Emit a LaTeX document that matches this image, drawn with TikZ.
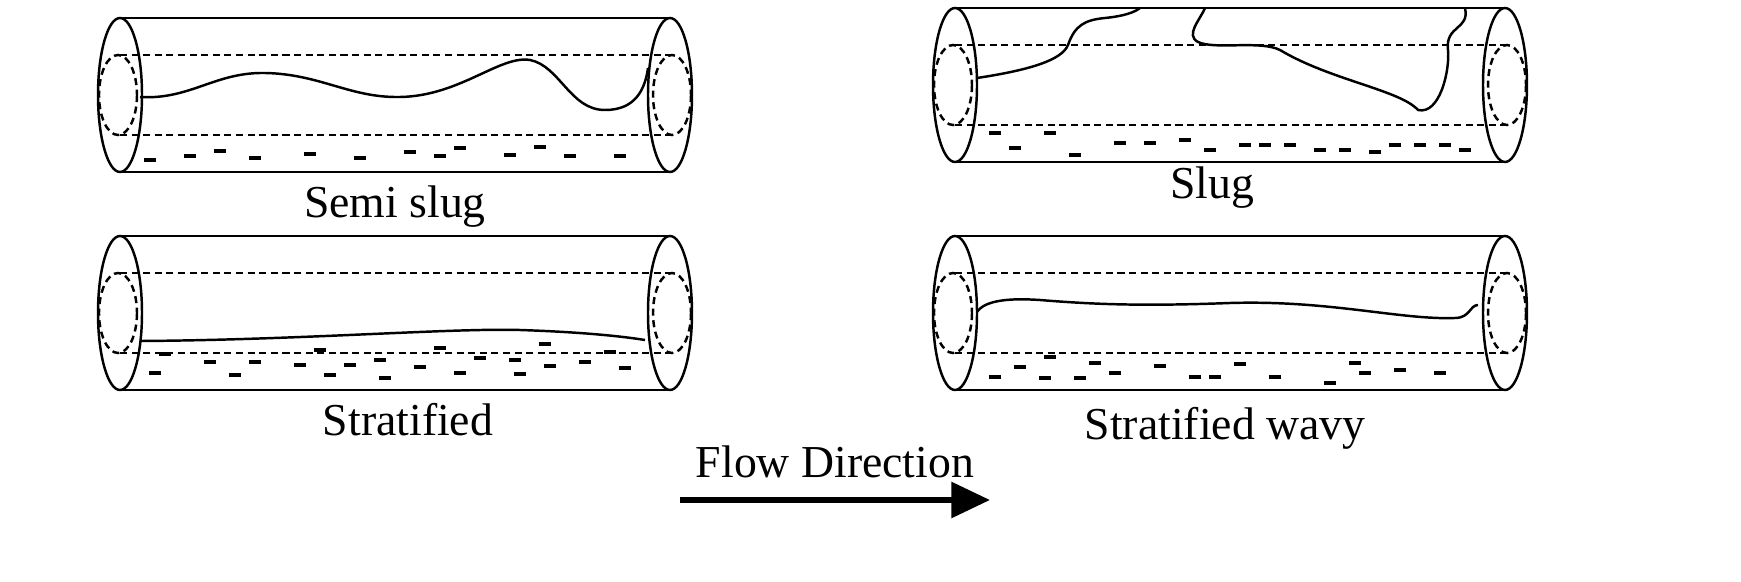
\documentclass[tikz,border=0pt]{standalone}
\usepackage{fontspec}
\setmainfont{Liberation Serif}
\usetikzlibrary{arrows.meta}

% one pipe, drawn from its top left corner
\newcommand\pipe[1]{%
  \begin{scope}[shift={#1}]
    \draw (0,0) -- (550,0) (0,154) -- (550,154);
    \draw (0,77) ellipse [x radius=22, y radius=77];
    \draw (550,77) ellipse [x radius=22, y radius=77];
    \draw[dashed] (-2,77) ellipse [x radius=19, y radius=40];
    \draw[dashed] (552,77) ellipse [x radius=19, y radius=40];
    \draw[dashed] (0,37) -- (550,37) (0,117) -- (550,117);
  \end{scope}}

\begin{document}
\begin{tikzpicture}[x=0.01cm,y=-0.01cm,line width=0.7pt,
    dashed/.style={dash pattern=on 2pt off 1.3pt},
    drop/.style={line width=1.2pt},
    label/.style={font=\fontsize{13}{15}\selectfont}]
  \useasboundingbox (0,0) rectangle (1741,582);

  % the four pipes
  \pipe{(120,18)}
  \pipe{(955,8)}
  \pipe{(120,236)}
  \pipe{(955,236)}

  % semi slug
  \draw (140,97) .. controls (190,100) and (215,72) .. (265,73)
    .. controls (320,74) and (350,98) .. (400,97)
    .. controls (460,96) and (500,55) .. (530,60)
    .. controls (560,66) and (570,110) .. (605,110)
    .. controls (635,110) and (645,90) .. (648,68);
  \foreach \x/\y in {150/160,190/156,220/151,255/158,310/154,360/158,410/152,
      440/156,460/148,510/155,540/147,570/156,620/156}
    \draw[drop] (\x-6,\y) -- (\x+6,\y);

  % slug
  \draw (977,78) .. controls (1030,70) and (1062,60) .. (1068,45)
    .. controls (1075,25) and (1085,20) .. (1105,18)
    .. controls (1125,16) and (1135,12) .. (1140,8);
  \draw (1205,8) .. controls (1200,20) and (1185,35) .. (1198,42)
    .. controls (1215,50) and (1260,40) .. (1280,50)
    .. controls (1330,80) and (1400,90) .. (1418,110)
    .. controls (1440,115) and (1450,70) .. (1448,50)
    .. controls (1445,25) and (1470,30) .. (1465,8);
  \foreach \x/\y in {995/133,1015/148,1050/133,1075/155,1120/143,1150/143,
      1185/140,1210/150,1245/145,1265/145,1290/145,1320/150,1345/150,1375/152,
      1395/145,1420/145,1445/145,1465/150}
    \draw[drop] (\x-6,\y) -- (\x+6,\y);

  % stratified
  \draw (140,341) .. controls (300,340) and (450,328) .. (520,330)
    .. controls (580,332) and (620,336) .. (645,340);
  \foreach \x/\y in {165/354,155/373,210/362,235/375,255/362,300/365,320/350,
      330/375,350/365,380/360,385/378,420/367,440/348,460/373,480/358,515/360,
      520/374,545/344,550/366,585/362,610/352,625/368}
    \draw[drop] (\x-6,\y) -- (\x+6,\y);

  % stratified wavy
  \draw (977,312) .. controls (985,300) and (1010,298) .. (1040,300)
    .. controls (1100,305) and (1150,306) .. (1230,303)
    .. controls (1330,300) and (1400,320) .. (1455,318)
    .. controls (1470,318) and (1470,305) .. (1478,305);
  \foreach \x/\y in {995/377,1020/367,1045/378,1050/357,1080/378,1095/363,
      1115/373,1160/366,1195/377,1215/377,1240/364,1275/377,1330/383,1355/363,
      1365/373,1400/370,1440/373}
    \draw[drop] (\x-6,\y) -- (\x+6,\y);

  % Annotate the patterns.
  \node[label] (semi) at (395,207) {Semi slug};
  \node[label] (slug) at (1212,188) {Slug};
  \node[label] (strat) at (408,420) {Stratified};
  \node[label] (wavy) at (1225,428) {Stratified wavy};
  \node[label] (flow) at (835,462) {Flow Direction};
  \coordinate (fs) at (680,500);
  \coordinate (fe) at (990,500);
  \draw[line width=1.6pt,-{Triangle[length=11pt,width=10pt]}] (fs) -- (fe);
\end{tikzpicture}
\end{document}
